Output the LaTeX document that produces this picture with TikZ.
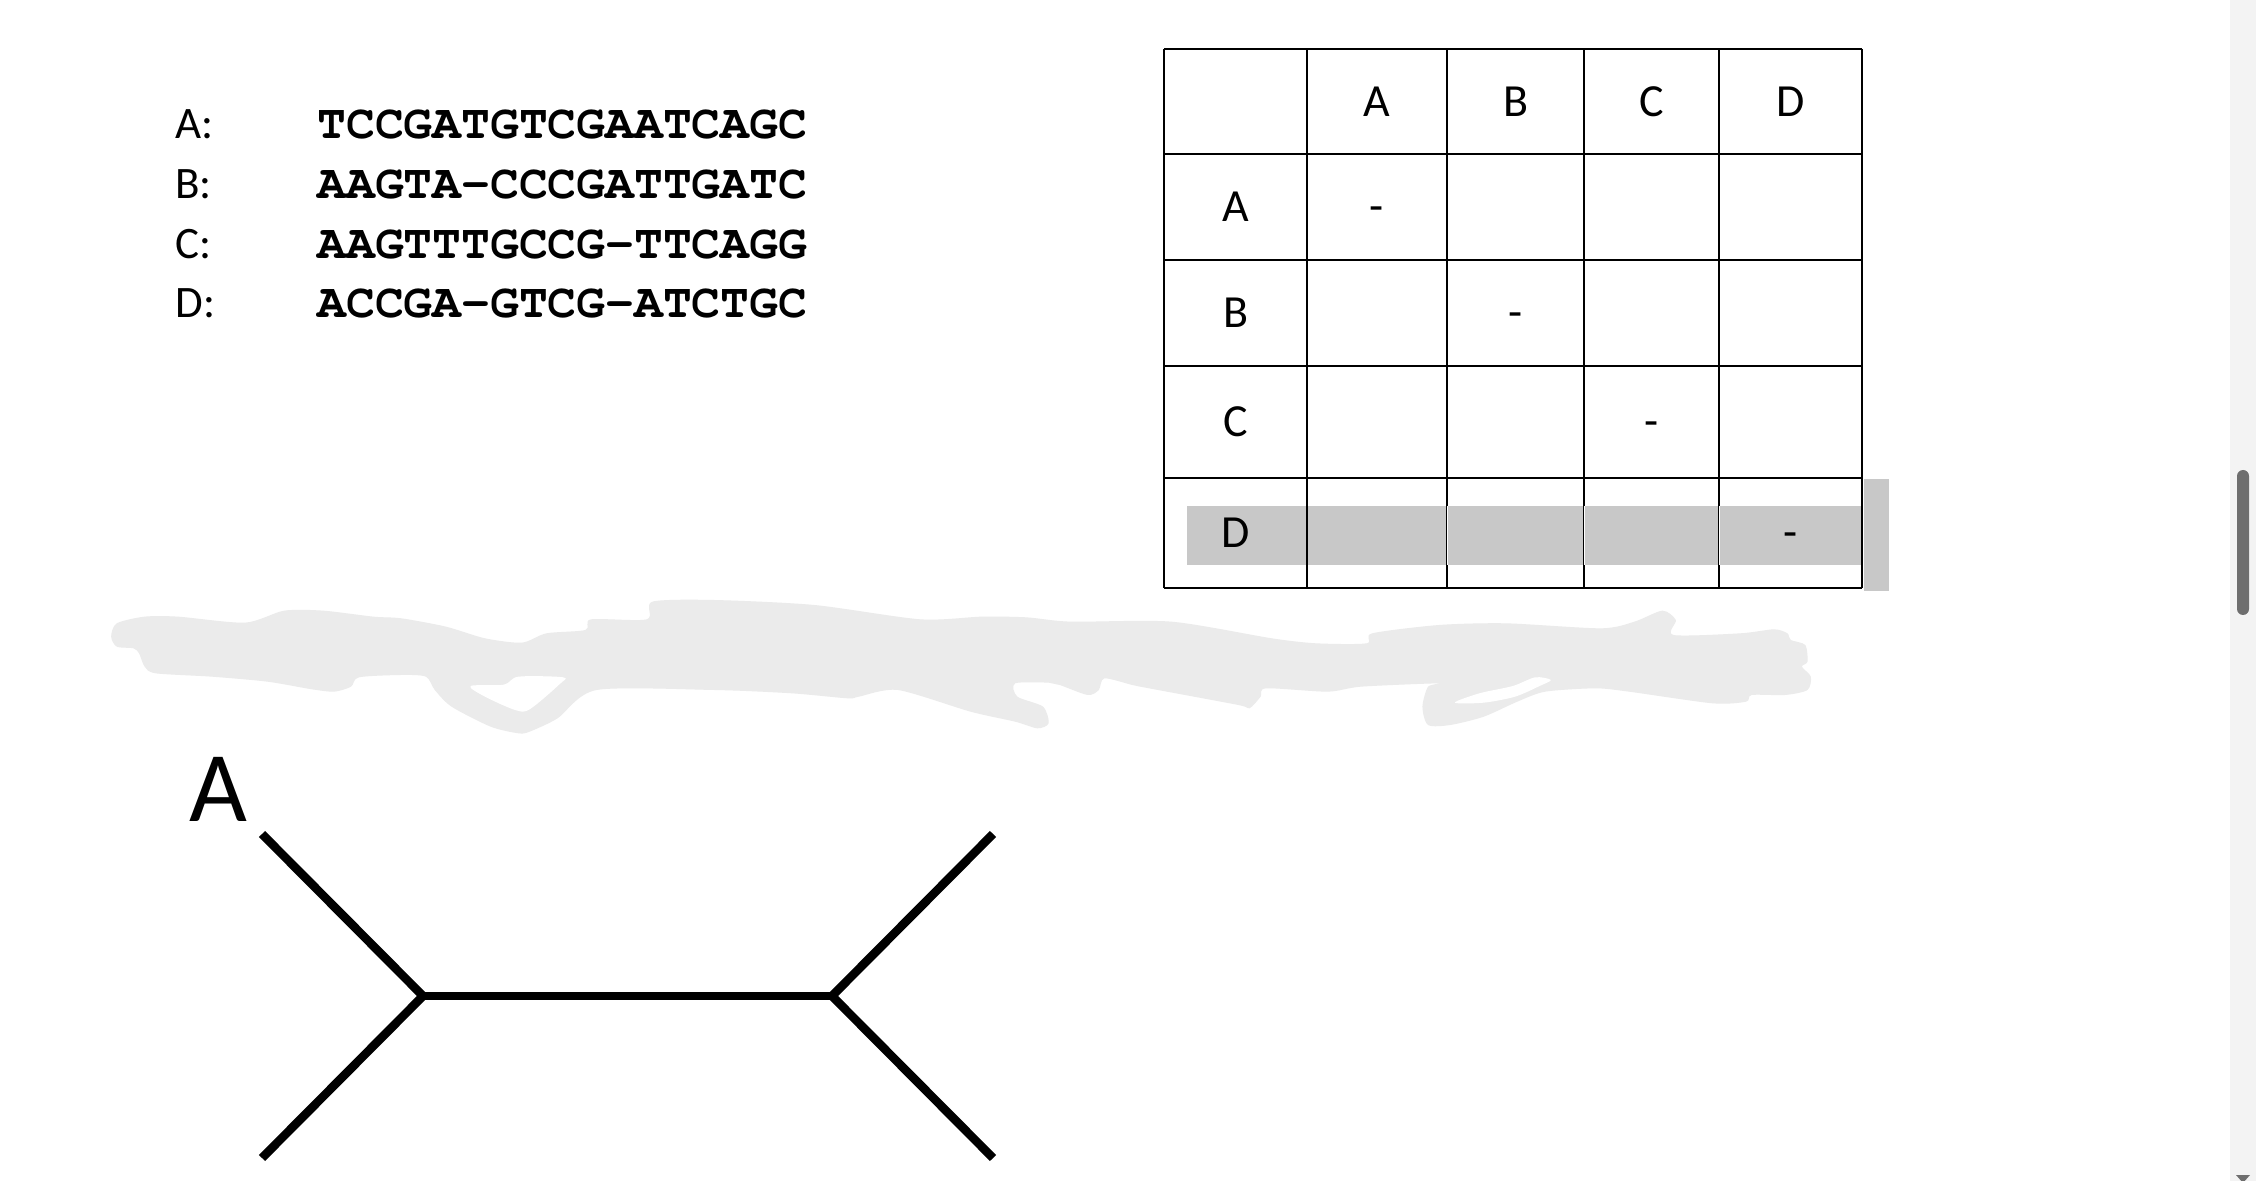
\documentclass[tikz,border=0pt]{standalone}
\usepackage{fontspec}
\setmainfont{Carlito}
\newfontfamily\seqfont{texgyrecursor}[Extension=.otf,UprightFont=*-regular,BoldFont=*-bold]
\usetikzlibrary{positioning}
\definecolor{scribble}{RGB}{235,235,235}
\definecolor{hilite}{RGB}{200,200,200}
\definecolor{track}{RGB}{243,243,243}
\definecolor{thumb}{RGB}{110,110,110}

\begin{document}
\begin{tikzpicture}[x=0.5pt,y=-0.5pt,
    lab/.style={inner sep=0pt,anchor=base west,font=\fontsize{22.5}{27}\selectfont},
    seq/.style={inner sep=0pt,anchor=base west,font=\seqfont\bfseries\fontsize{24}{28}\selectfont},
    cell/.style={inner sep=0pt,anchor=base,font=\fontsize{23}{28}\selectfont},
    gridline/.style={line width=0.8pt},
    branch/.style={line width=4.3pt}]
  \useasboundingbox (0,0) rectangle (2256,1181);
  \fill[white] (0,0) rectangle (2256,1181);

  % sequences
  \foreach \name/\s [count=\i from 0] in {A/TCCGATGTCGAATCAGC,B/AAGTA-CCCGATTGATC,C/AAGTTTGCCG-TTCAGG,D/ACCGA-GTCG-ATCTGC}{
    \node[lab] (lab\name) at (175,{139+59.6*\i}) {\name:};
    \node[seq] (seq\name) at (317,{139+59.6*\i}) {\s};
  }

  % distance table
  \fill[hilite] (1187,506) rectangle (1862,565);
  \fill[hilite] (1864,479) rectangle (1889,591);
  \foreach \x in {1164,1307,1447,1584,1719,1862}
    \draw[gridline] (\x,49) -- (\x,588);
  \foreach \y in {49,154,260,366,478,588}
    \draw[gridline] (1164,\y) -- (1862,\y);
  \foreach \x in {1447,1584,1719}
    \draw[white,line width=0.5pt] (\x,506) -- (\x,565);
  \foreach \name/\x/\y in {A/1377/222,B/1515.5/328,C/1651.5/437,D/1790.5/548}{
    \node[cell] (col\name) at (\x,116.5) {\name};
    \node[cell] (row\name) at (1236,\y) {\name};
    \node[cell] (diag\name) at (\x,\y) {-};
  }

  % scribble
  \begin{scope}[shift={(100,580)},xscale=1.116,yscale=0.3333]
    \fill[scribble] plot[smooth cycle,tension=0.45] coordinates {
      (15,130) (40,110) (70,110) (130,128) (165,92) (200,92) (245,110) (270,115)
      (310,140) (345,175) (378,188) (400,160) (435,150) (440,118) (490,118) (495,65)
      (550,60) (640,75) (735,118) (790,110) (830,112) (870,125) (960,125) (1050,175)
      (1090,190) (1135,190) (1140,160) (1200,135) (1260,130) (1345,145) (1375,125)
      (1400,92) (1412,120) (1410,165) (1470,160) (1500,148) (1512,160) (1515,180)
      (1528,195) (1530,245) (1525,260) (1533,290) (1530,330) (1510,345) (1480,345)
      (1475,365) (1445,370) (1370,335) (1340,325) (1295,335) (1270,365) (1240,410)
      (1210,435) (1190,435) (1185,380) (1190,320) (1200,310) (1130,320) (1100,335)
      (1045,325) (1040,350) (1030,385) (1020,375) (940,325) (925,315) (900,295)
      (895,330) (885,345) (860,315) (850,308) (820,310) (822,350) (845,380) (850,430)
      (840,445) (820,425) (780,395) (715,330) (680,350) (670,355) (620,340) (550,330)
      (445,330) (410,415) (385,455) (375,460) (350,440) (315,380) (300,330) (292,290)
      (270,285) (232,292) (225,320) (210,335) (190,328) (150,305) (100,290) (50,280)
      (40,260) (35,220) (30,205) (15,200) (10,170)};
    \fill[white] plot[smooth cycle,tension=0.5] coordinates {
      (332,318) (362,314) (375,290) (415,292) (412,312) (385,388) (372,390) (345,350)};
    \fill[white] plot[smooth cycle,tension=0.5] coordinates {
      (1214,368) (1236,340) (1266,318) (1286,292) (1300,300) (1290,318) (1268,350) (1240,368)};
  \end{scope}

  % tree
  \coordinate (leafA) at (262,834);
  \coordinate (leafB) at (262,1158);
  \coordinate (leafC) at (993,834);
  \coordinate (leafD) at (993,1158);
  \coordinate (inner1) at (423,996);
  \coordinate (inner2) at (832,996);
  \draw[branch] (leafA) -- (inner1) -- (leafB);
  \draw[branch] (inner1) -- (inner2);
  \draw[branch] (leafC) -- (inner2) -- (leafD);
  \node[inner sep=0pt,anchor=base west,font=\fontsize{50}{60}\selectfont] (tagA) at (189,822) {A};

  % scrollbar
  \fill[track] (2230,0) rectangle (2256,1181);
  \fill[thumb,rounded corners=3pt] (2237,470) rectangle (2249,615);
  \fill[thumb] (2236,1175) -- (2250,1175) -- (2243,1183) -- cycle;
\end{tikzpicture}
\end{document}
